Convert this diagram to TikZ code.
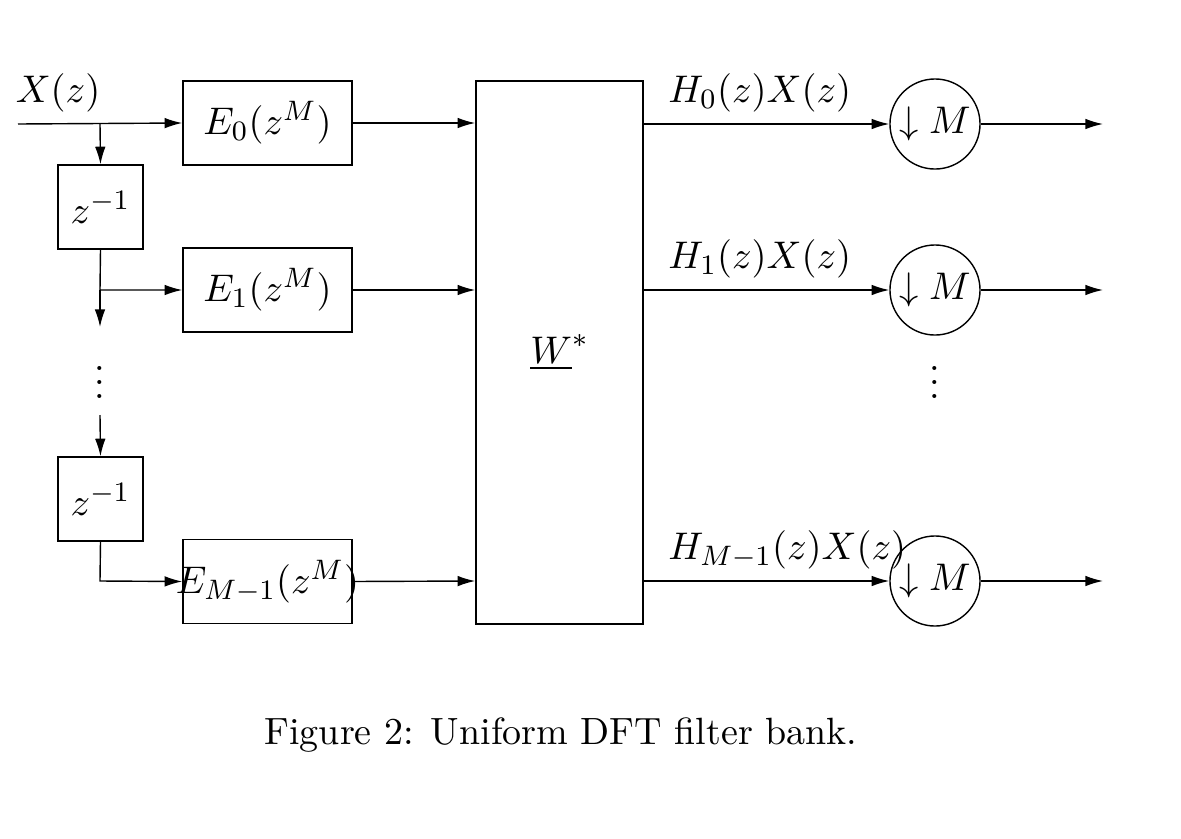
\documentclass[tikz,border=0pt]{standalone}
\usetikzlibrary{arrows.meta}
\begin{document}
\begin{tikzpicture}[x=0.01cm,y=-0.01cm,thin,
  every node/.style={font=\fontsize{10.8}{13}\selectfont},
  blk/.style={draw,minimum width=1.69cm,minimum height=0.84cm,inner sep=0pt},
  dl/.style={draw,minimum width=0.85cm,minimum height=0.84cm,inner sep=0pt},
  dn/.style={draw,circle,minimum size=0.9cm,inner sep=0pt},
  ar/.style={-{Latex[length=5pt,width=3pt]}}]
\useasboundingbox (0,0) rectangle (1181,839);
\node (E0) [blk] at (267.5,123) {$E_0(z^M)$};
\node (E1) [blk] at (267.5,290) {$E_1(z^M)$};
\node (E2) [blk] at (267.5,581.5) {\makebox[0pt]{$E_{M-1}(z^M)$}};
\node (D1) [dl] at (100.5,207) {$z^{-1}$};
\node (D2) [dl] at (100.5,499) {$z^{-1}$};
\node (W) [draw,minimum width=1.67cm,minimum height=5.43cm,inner sep=0pt] at (559.5,352.5) {$\underline{W}^*$};
\node (C0) [dn] at (935,124) {$\downarrow M$};
\node (C1) [dn] at (935,290) {$\downarrow M$};
\node (C2) [dn] at (935,581) {$\downarrow M$};
\coordinate (in) at (18,124);
\coordinate (b0) at (100,124);
\coordinate (b1) at (100,290);
\coordinate (b1e) at (100,327);
\coordinate (b2s) at (100,415);
\coordinate (b2) at (100,581);
\coordinate (o0) at (1103,124);
\coordinate (o1) at (1103,290);
\coordinate (o2) at (1103,581);
\node (X) at (58,93) {$X(z)$};
\draw[ar] (in) -- (E0.west);
\draw[ar] (b0) -- (D1.north);
\draw[ar] (D1.south) -- (b1) -- (E1.west);
\draw[ar] (b1) -- (b1e);
\node (vd1) at (100,372) {$\vdots$};
\draw[ar] (b2s) -- (D2.north);
\draw[ar] (D2.south) -- (b2) -- (E2.west);
\draw[ar] (E0.east) -- (W.west |- E0.east);
\draw[ar] (E1.east) -- (W.west |- E1.east);
\draw[ar] (E2.east) -- (W.west |- b2);
\draw[ar] (W.east |- C0) -- (C0.west);
\draw[ar] (W.east |- C1) -- (C1.west);
\draw[ar] (W.east |- C2) -- (C2.west);
\node (L0) [anchor=west] at (656,93) {$H_0(z)X(z)$};
\node (L1) [anchor=west] at (656,259) {$H_1(z)X(z)$};
\node (L2) [anchor=west] at (656,550) {$H_{M-1}(z)X(z)$};
\draw[ar] (C0.east) -- (o0);
\draw[ar] (C1.east) -- (o1);
\draw[ar] (C2.east) -- (o2);
\node (vd2) at (935,372) {$\vdots$};
\node (cap) at (561,735) {Figure 2: Uniform DFT filter bank.};
\end{tikzpicture}
\end{document}
